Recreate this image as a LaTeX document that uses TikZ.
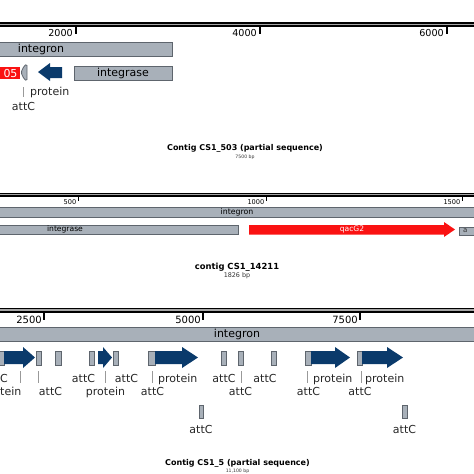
\documentclass[tikz,border=0pt]{standalone}
\usepackage{fontspec}
\setmainfont{DejaVu Sans}
\usetikzlibrary{positioning}
\definecolor{featgray}{HTML}{A8B0B9}
\definecolor{featedge}{HTML}{5E656D}
\definecolor{cdsblue}{HTML}{0A3A6B}
\definecolor{cdsred}{HTML}{FA1212}
\newcommand{\fsz}[1]{\fontsize{#1}{#1}\selectfont}

\begin{document}
\begin{tikzpicture}[x=1pt,y=-1pt,
  feat/.style={fill=featgray,draw=featedge,line width=.8pt},
  seqline/.style={line width=5pt,black},
  seqcore/.style={line width=1.4pt,gray!70},
  rtick/.style={line width=1.4pt,black},
  lbl/.style={inner sep=0pt,anchor=base,font=\fsz{11},text=black!85},
  pipe/.style={gray!80,line width=.6pt},
  title/.style={inner sep=0pt,anchor=base,font=\bfseries\fsz{8}},
  bp/.style={inner sep=0pt,anchor=base,font=\fsz{4.6},text=black!80}]
\useasboundingbox (0,0) rectangle (474,474);
\clip (0,0) rectangle (474,474);

% ---------- Contig CS1_503 ----------
\draw[seqline] (0,24.5) -- (474,24.5);
\draw[seqcore] (0,24.5) -- (474,24.5);
\foreach \t/\x in {2000/76,4000/260,6000/447}{
  \draw[rtick] (\x,27) -- (\x,34);
  \node[inner sep=0pt,anchor=base east,font=\fsz{9.6}] (ra\t) at (\x-3,36) {\t};
}
\draw[feat] (-60,42) rectangle (172,56);
\node[inner sep=0pt,font=\fsz{11}] (intA) at (41,49) {integron};
\fill[cdsred] (-40,67) rectangle (20,79);
\node[inner sep=0pt,font=\fsz{11},text=white] (cassA) at (10.5,73) {05};
\draw[feat,rounded corners=1.5pt] (27,64) -- (27,81) -- (24,79) -- (21,72.5) -- (24,66) -- cycle;
\fill[cdsblue] (62,67) -- (50,67) -- (50,63) -- (38,72) -- (50,81) -- (50,78) -- (62,78) -- cycle;
\draw[feat] (74,66) rectangle (172,80);
\node[inner sep=0pt,font=\fsz{11}] (intgA) at (123,73) {integrase};
\draw[pipe] (23,87) -- (23,97);
\node[lbl,anchor=base west] (protA) at (30,95) {protein};
\node[lbl] (attA) at (23.5,110) {attC};
\node[title] (ttlA) at (245,150) {Contig CS1\_503 (partial sequence)};
\node[bp] (bpA) at (245,158) {7500 bp};

% ---------- contig CS1_14211 ----------
\draw[seqline,line width=4pt] (0,194.5) -- (474,194.5);
\draw[seqcore,line width=1.2pt] (0,194.5) -- (474,194.5);
\foreach \t/\x in {500/78,1000/266,1500/462}{
  \draw[rtick,line width=1pt] (\x,196.5) -- (\x,201);
  \node[inner sep=0pt,anchor=base east,font=\fsz{6.6}] (rb\t) at (\x-1.5,204) {\t};
}
\draw[feat] (-10,207) rectangle (484,217);
\node[inner sep=0pt,font=\fsz{7.8}] (intB) at (237,212) {integron};
\draw[feat] (-10,225) rectangle (238,234.5);
\node[inner sep=0pt,font=\fsz{7.6}] (intgB) at (65,229.5) {integrase};
\fill[cdsred] (249,225) -- (444,225) -- (444,222) -- (455,229.5) -- (444,237) -- (444,234.5) -- (249,234.5) -- cycle;
\node[inner sep=0pt,font=\fsz{7.6},text=white] (qacB) at (352,229.5) {qacG2};
\draw[feat] (459,227) rectangle (484,235);
\node[inner sep=0pt,anchor=west,font=\fsz{7},text=black!80] (attB) at (463,231) {a};
\node[title,font=\bfseries\fsz{8.4}] (ttlB) at (237,269) {contig CS1\_14211};
\node[bp,font=\fsz{6.4}] (bpB) at (237,277) {1826 bp};

% ---------- Contig CS1_5 ----------
\draw[seqline] (0,310) -- (474,310);
\draw[seqcore] (0,310) -- (474,310);
\foreach \t/\x in {2500/44,5000/203,7500/360}{
  \draw[rtick] (\x,312.5) -- (\x,320);
  \node[inner sep=0pt,anchor=base east,font=\fsz{10}] (rc\t) at (\x-2,323) {\t};
}
\draw[feat] (-10,327) rectangle (484,341);
\node[inner sep=0pt,font=\fsz{11}] (intC) at (237,334) {integron};
% attC sites
\foreach \a/\b in {-5/4,36/41,55/61,89/94,113/118,148/155,221/226,238/243,271/276,305/311,357/362}
  \draw[feat] (\a,351) rectangle (\b,365);
\foreach \a/\b in {199/203,402/407}
  \draw[feat] (\a,405) rectangle (\b,418);
% protein genes
\foreach \a/\b/\c in {4/23/35,98/103/112,155/182/198,311/335/350,362/387/403}
  \fill[cdsblue] (\a,351) -- (\b,351) -- (\b,347) -- (\c,357.5) -- (\b,368) -- (\b,364) -- (\a,364) -- cycle;
\foreach \x in {20,38,105,152,241,307,361}
  \draw[pipe] (\x,371) -- (\x,383);
\node[lbl,anchor=base west] (attC1) at (0,382) {C};
\node[lbl,anchor=base west] (protC1) at (0,395) {tein};
\node[lbl] (attC2) at (50.5,395) {attC};
\node[lbl] (attC3) at (83.5,382) {attC};
\node[lbl] (attC4) at (126.5,382) {attC};
\node[lbl] (protC2) at (105.5,395) {protein};
\node[lbl,anchor=base west] (protC3) at (158,382) {protein};
\node[lbl] (attC5) at (152.5,395) {attC};
\node[lbl] (attC6) at (224,382) {attC};
\node[lbl] (attC7) at (265,382) {attC};
\node[lbl] (attC8) at (240.5,395) {attC};
\node[lbl,anchor=base west] (protC4) at (313,382) {protein};
\node[lbl] (attC9) at (308.5,395) {attC};
\node[lbl,anchor=base west] (protC5) at (365,382) {protein};
\node[lbl] (attC10) at (360,395) {attC};
\node[lbl] (attC11) at (201,433) {attC};
\node[lbl] (attC12) at (404.5,433) {attC};
\node[title] (ttlC) at (237.5,465) {Contig CS1\_5 (partial sequence)};
\node[bp] (bpC) at (237.5,472) {11,100 bp};
\end{tikzpicture}
\end{document}
